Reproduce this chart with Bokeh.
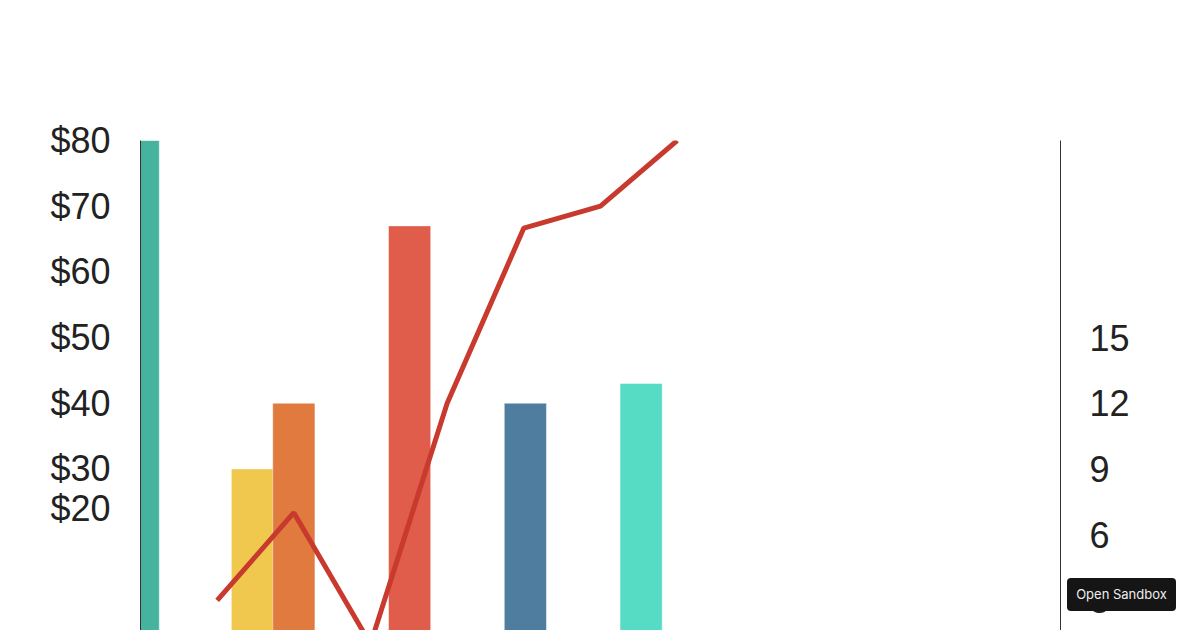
from bokeh.plotting import figure
from bokeh.models import Range1d, LinearAxis, FixedTicker, Div
from bokeh.embed import file_html
from bokeh.resources import INLINE

# bars, read against the left ($) axis
bar_x = [-0.03, 1.46, 2, 3.51, 5.02, 6.53]
bar_values = [80, 30, 40, 67, 40, 43]
bar_colors = ["#45b39d", "#f0c84e", "#e07a3f", "#e05c4b", "#4f7da0", "#56dcc4"]

# line, read against the right axis
line_x = [1, 2, 3, 4, 5, 6, 7]
line_values = [3, 7, 1, 12, 20, 21, 24]

# tick labels as they appear ($20 sits off the regular step in the original)
left_ticks = [23.9, 30, 40, 50, 60, 70, 80]
left_labels = ["$20", "$30", "$40", "$50", "$60", "$70", "$80"]
right_ticks = [3, 6, 9, 12, 15]

FONT = "Liberation Sans"
TEXT = "#222222"


def style_axis(axis, standoff):
    axis.axis_line_color = "#333333"
    axis.axis_line_width = 1
    axis.major_tick_line_color = None
    axis.minor_tick_line_color = None
    axis.major_tick_out = 0
    axis.major_tick_in = 0
    axis.major_label_standoff = standoff
    axis.major_label_text_font = FONT
    axis.major_label_text_font_size = "36px"
    axis.major_label_text_color = TEXT


p = figure(width=1200, height=630, output_backend="svg", toolbar_location=None,
           tools="", x_range=Range1d(0, 12), y_range=Range1d(5.4, 80),
           x_axis_location=None, min_border_left=140, min_border_right=140,
           min_border_top=140, min_border_bottom=0)
p.outline_line_color = None
p.grid.grid_line_color = None
p.background_fill_color = "white"
p.border_fill_color = "white"

p.extra_y_ranges = {"count": Range1d(1.62, 24)}

# left axis
style_axis(p.yaxis[0], 30)
p.yaxis[0].ticker = FixedTicker(ticks=left_ticks)
p.yaxis[0].major_label_overrides = {float(t): s for t, s in zip(left_ticks, left_labels)}

# right axis
right = LinearAxis(y_range_name="count", ticker=FixedTicker(ticks=right_ticks))
style_axis(right, 29)
p.add_layout(right, "right")

p.vbar(x=bar_x, top=bar_values, bottom=0, width=0.55, fill_color=bar_colors,
       line_color="white", line_alpha=0.45, line_width=1)

p.line(x=line_x, y=line_values, y_range_name="count", line_color="#c8392e",
       line_width=5)

# the embed's floating "Open Sandbox" button, which covers the lowest right tick
btn = Div(text="Open Sandbox", styles={
    "position": "absolute", "left": "1067px", "top": "578px",
    "width": "109px", "height": "33px", "z-index": "10",
    "display": "flex", "align-items": "center", "justify-content": "center",
    "background-color": "#151515", "color": "#eeeeee", "border-radius": "4px",
    "font-family": "Inter", "font-size": "13px",
})
p.elements.append(btn)

open("out.html", "w").write(file_html(p, INLINE))
